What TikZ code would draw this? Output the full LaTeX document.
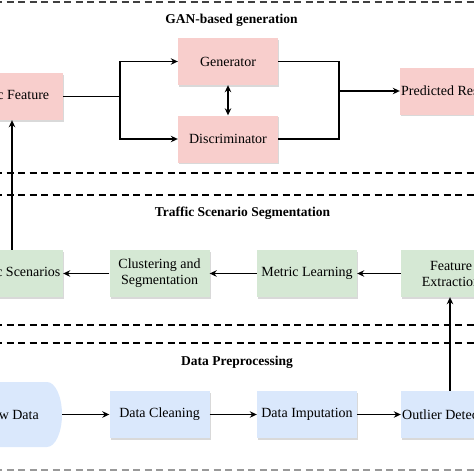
\documentclass[tikz,border=0pt]{standalone}
\usepackage{fontspec}
\setmainfont{Liberation Serif}
\usetikzlibrary{arrows.meta,shadows}
\definecolor{pinkf}{HTML}{F8CECC}
\definecolor{greenf}{HTML}{D5E8D4}
\definecolor{bluef}{HTML}{DAE8FC}
\tikzset{
  box/.style={draw=none, minimum width=100pt, minimum height=47pt, inner sep=0pt,
    align=center, font=\fontsize{14}{16}\selectfont,
    drop shadow={shadow xshift=1.2pt, shadow yshift=-1.5pt, opacity=0.3, fill=gray}},
  pbox/.style={box, fill=pinkf},
  gbox/.style={box, fill=greenf},
  bbox/.style={box, fill=bluef},
  ttl/.style={font=\bfseries\fontsize{13.5}{16}\selectfont, inner sep=0pt},
  txt/.style={font=\fontsize{14}{16}\selectfont, inner sep=0pt},
  conn/.style={line width=1.7pt},
  arr/.style={conn, -{Stealth[length=7pt,width=6.5pt]}},
  darr/.style={conn, {Stealth[length=7pt,width=6.5pt]}-{Stealth[length=7pt,width=6.5pt]}},
  sep/.style={line width=1.9pt, dash pattern=on 7pt off 4.5pt}
}
\begin{document}
\begin{tikzpicture}[x=1pt,y=-1pt]
\useasboundingbox (0,0) rectangle (474,474);
% separators
\draw[sep, draw=black!75] (-5,2) -- (480,2);
\draw[sep] (-5,173) -- (480,173);
\draw[sep] (-5,195) -- (480,195);
\draw[sep] (-5,325) -- (480,325);
\draw[sep] (-5,343) -- (480,343);
\draw[sep, draw=black!40] (-5,470) -- (480,470);
% titles
\node[ttl] (t1) at (231.5,20) {GAN-based generation};
\node[ttl] (t2) at (242.5,213) {Traffic Scenario Segmentation};
\node[ttl] (t3) at (237,362) {Data Preprocessing};
% GAN row
\node[pbox] (feat) at (13,96.5) {\makebox[0pt][c]{\hspace*{-19pt}Specific Feature}};
\node[pbox] (gen) at (228,61.5) {Generator};
\node[pbox] (disc) at (228,139) {Discriminator};
\node[pbox] (pred) at (450,91) {\makebox[0pt][c]{Predicted Results}};
% segmentation row
\node[gbox] (scen) at (13,273.5) {\makebox[0pt][c]{\hspace*{-9pt}Specific Scenarios}};
\node[gbox] (clus) at (159.5,273.5) {Clustering and\\Segmentation};
\node[gbox] (metr) at (307,273.5) {Metric Learning};
\node[gbox] (fext) at (451,273.5) {Feature\\Extraction};
% preprocessing row
\fill[bluef] (-60,382) -- (47,382) arc[start angle=-90, end angle=90, x radius=15pt, y radius=-32.5pt] -- (-60,447) -- cycle;
\node[txt] (raw) at (11,414.5) {Raw Data};
\coordinate (rawe) at (62,414.5);
\node[bbox] (clean) at (159.5,414.5) {Data Cleaning};
\node[bbox] (imp) at (307,414.5) {Data Imputation};
\node[bbox] (outl) at (451,414.5) {\makebox[0pt][c]{Outlier Detection}};
% GAN connectors
\coordinate (j1) at (120,96.5);
\coordinate (j2) at (339,91);
\draw[conn] (feat.east) -- (j1);
\draw[arr] (j1) |- (gen.west);
\draw[arr] (j1) |- (disc.west);
\draw[conn] (gen.east) -| (j2);
\draw[conn] (disc.east) -| (j2);
\draw[arr] (j2) -- (pred.west);
\draw[darr] (gen.south) -- (disc.north);
% segmentation connectors
\draw[arr] (scen.north -| 12,0) -- (feat.south -| 12,0);
\draw[arr] (fext.west) -- (metr.east);
\draw[arr] (metr.west) -- (clus.east);
\draw[arr] (clus.west) -- (scen.east);
% preprocessing connectors
\draw[arr] (outl.north -| 450,0) -- (fext.south -| 450,0);
\draw[arr] (rawe) -- (clean.west);
\draw[arr] (clean.east) -- (imp.west);
\draw[arr] (imp.east) -- (outl.west);
\end{tikzpicture}
\end{document}
